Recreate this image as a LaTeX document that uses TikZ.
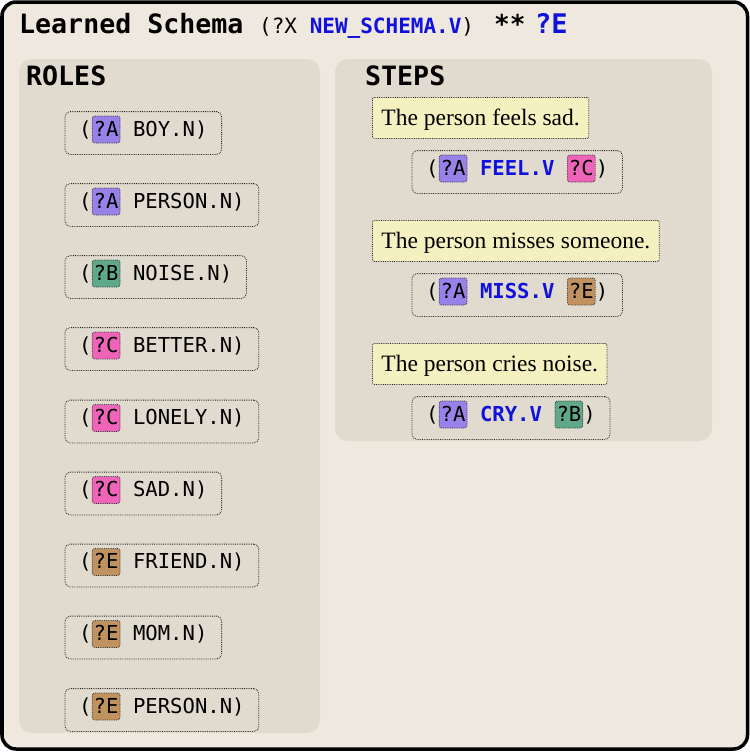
\documentclass[tikz,border=0pt]{standalone}
\usepackage{fontspec}
\setmainfont{Liberation Serif}
\newfontfamily\monof{DejaVu Sans Mono}
\usetikzlibrary{fit,calc}
\definecolor{bgc}{RGB}{239,232,222}
\definecolor{panelc}{RGB}{224,218,207}
\definecolor{notec}{RGB}{244,240,192}
\definecolor{predc}{RGB}{17,17,221}
\definecolor{tagA}{RGB}{150,130,232}
\definecolor{tagB}{RGB}{96,168,138}
\definecolor{tagC}{RGB}{238,100,185}
\definecolor{tagE}{RGB}{192,146,96}
\tikzset{
 outerframe/.style={draw=black, line width=3.5pt, rounded corners=14pt, fill=bgc},
 panel/.style={fill=panelc, draw=none, rounded corners=13pt},
 heading/.style={font=\monof\bfseries\fontsize{26.6}{30}\selectfont, inner sep=0, anchor=base west},
 mono/.style={font=\monof\fontsize{20.6}{24}\selectfont, inner sep=0, text height=16pt, text depth=3pt},
 pred/.style={mono, font=\monof\bfseries\fontsize{20.6}{24}\selectfont, text=predc},
 bigmono/.style={font=\monof\bfseries\fontsize{26}{28}\selectfont, inner sep=0, anchor=base west},
 tagbox/.style={mono, draw=black!80, densely dotted, line width=0.8pt, rounded corners=2.5pt, inner xsep=1.5pt, inner ysep=4pt},
 formbox/.style={draw=black!85, densely dotted, line width=0.8pt, rounded corners=5pt, inner xsep=14pt, inner ysep=4pt},
 note/.style={fill=notec, draw=black!85, densely dotted, line width=0.8pt, rounded corners=2pt, font=\fontsize{23.5}{27}\selectfont, text height=19pt, text depth=3pt, inner xsep=9pt, inner ysep=9.5pt, anchor=north west},
}
\newcommand\rolerow[5]{%
 \node[mono, anchor=base west] (#1o) at (79,#2) {(};
 \node[tagbox, fill=#4, anchor=west] (#1t) at (#1o.east) {#3};
 \node[mono, anchor=west] (#1r) at (#1t.east) {\ #5)};
 \coordinate (#1b) at ($(#1t.south)+(0,7)$);
 \node[formbox, fit=(#1o)(#1t)(#1r)(#1b)] (#1) {};
}
\newcommand\steprow[8]{%
 \node[note] (#1n) at (372,#2) {#8};
 \node[mono, anchor=base west] (#1o) at (426,#2+78) {(};
 \node[tagbox, fill=#4, anchor=west] (#1a) at (#1o.east) {#3};
 \node[pred, anchor=west] (#1p) at (#1a.east) {\ #5\kern0.602em};
 \node[tagbox, fill=#7, anchor=west] (#1c) at (#1p.east) {#6};
 \node[mono, anchor=west] (#1e) at (#1c.east) {)};
 \coordinate (#1b) at ($(#1a.south)+(0,7)$);
 \node[formbox, fit=(#1o)(#1a)(#1e)(#1b)] (#1) {};
}
\begin{document}
\begin{tikzpicture}[x=1pt,y=-1pt]
\useasboundingbox (0,0) rectangle (750,753);
\draw[outerframe] (2,2) rectangle (747.5,749);
\fill[panel] (19,59) rectangle (320,733);
\fill[panel] (335,59) rectangle (712,441);
\node[heading] (title) at (19,33) {Learned Schema};
\node[mono, font=\monof\fontsize{21}{24}\selectfont, anchor=base west] (sig) at (259,33) {(?X {\bfseries\color{predc}NEW\_SCHEMA.V})};
\node[bigmono] (stars) at (494,33) {**};
\node[bigmono, font=\monof\bfseries\fontsize{27}{30}\selectfont, text=predc] (var) at (535,33) {?E};
\node[heading] (roles) at (26,85) {ROLES};
\node[heading] (steps) at (365,85) {STEPS};
\rolerow{r1}{136}{?A}{tagA}{BOY.N}
\rolerow{r2}{208}{?A}{tagA}{PERSON.N}
\rolerow{r3}{280}{?B}{tagB}{NOISE.N}
\rolerow{r4}{352}{?C}{tagC}{BETTER.N}
\rolerow{r5}{424.5}{?C}{tagC}{LONELY.N}
\rolerow{r6}{496.5}{?C}{tagC}{SAD.N}
\rolerow{r7}{568.5}{?E}{tagE}{FRIEND.N}
\rolerow{r8}{640.5}{?E}{tagE}{MOM.N}
\rolerow{r9}{713}{?E}{tagE}{PERSON.N}
\steprow{s1}{97}{?A}{tagA}{FEEL.V}{?C}{tagC}{The person feels sad.}
\steprow{s2}{220}{?A}{tagA}{MISS.V}{?E}{tagE}{The person misses someone.}
\steprow{s3}{343}{?A}{tagA}{CRY.V}{?B}{tagB}{The person cries noise.}
\end{tikzpicture}
\end{document}
